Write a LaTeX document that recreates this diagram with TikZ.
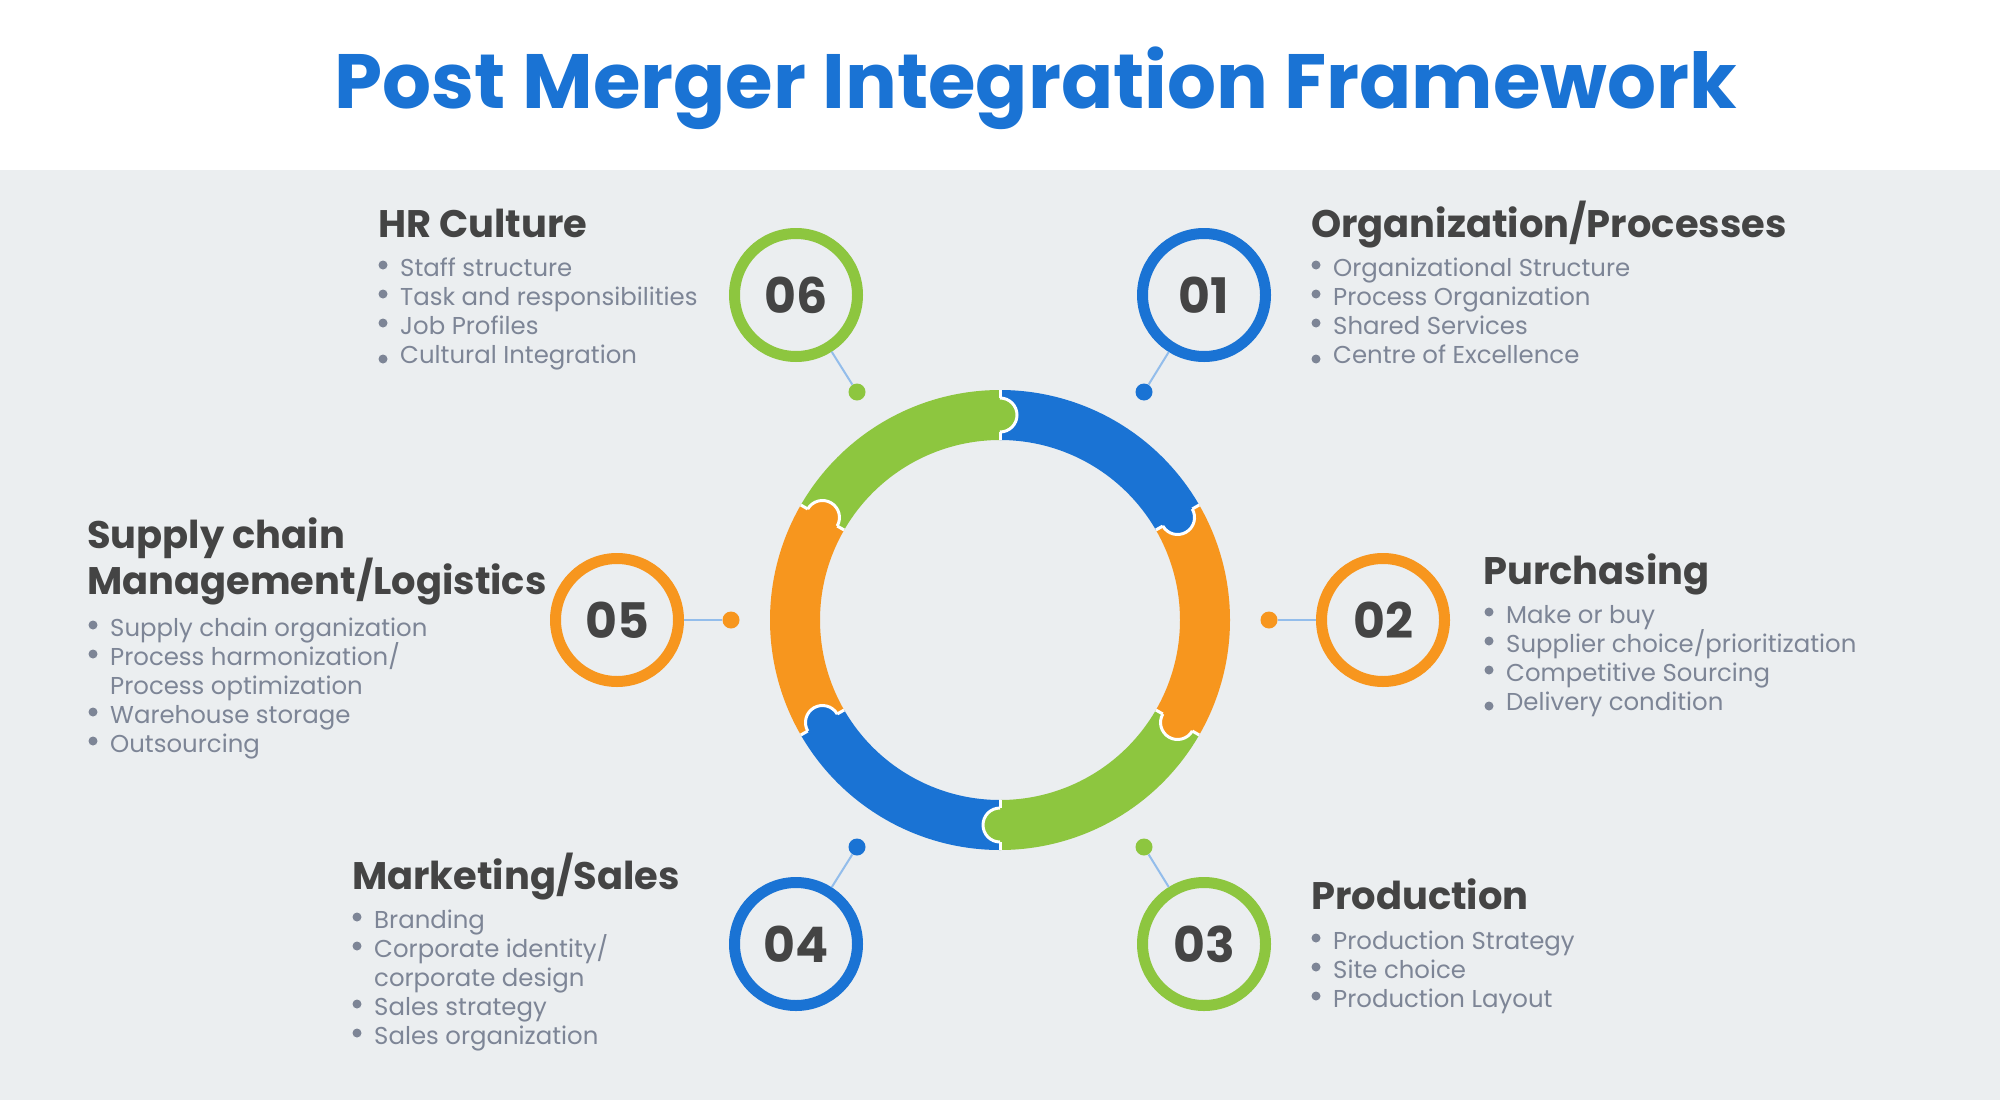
\documentclass[tikz,border=0pt]{standalone}
\usepackage{fontspec}
\setmainfont{Poppins}
\usetikzlibrary{calc}
\definecolor{bgc}{HTML}{EBEEF0}
\definecolor{myblue}{HTML}{1A73D4}
\definecolor{mygreen}{HTML}{8DC63F}
\definecolor{myorange}{HTML}{F7961E}
\definecolor{darktxt}{HTML}{444444}
\definecolor{bultxt}{HTML}{7D8596}
\definecolor{connc}{HTML}{93BDEB}
\newcommand\fs[1]{\fontsize{#1}{#1}\selectfont}
% bullet line: name, x, baseline y, text, dot dy
\newcommand\bl[5]{%
  \node[btext] (#1) at (#2,#3) {#4};
  \fill[bultxt] ($(#1.base west)+(-17,#5)$) circle[radius=4.5];}
\newcommand\wl[4]{\node[btext] (#1) at (#2,#3) {#4};}
\begin{document}
\begin{tikzpicture}[x=1pt,y=-1pt,
  numc/.style={circle, line width=11pt, minimum size=123pt, inner sep=0pt, font=\bfseries\fs{49}, text=darktxt},
  dotn/.style={circle, minimum size=17pt, inner sep=0pt},
  conn/.style={connc, line width=2pt},
  head/.style={font=\bfseries\fs{38.4}, text=darktxt, anchor=base west, inner sep=0pt},
  btext/.style={font=\fs{24.4}, text=bultxt, anchor=base west, inner sep=0pt}]
\useasboundingbox (0,0) rectangle (2000,1100);
\fill[white] (0,0) rectangle (2000,170);
\fill[bgc] (0,170) rectangle (2000,1100);

\node[font=\bfseries\fs{77}, text=myblue, anchor=base, inner sep=0pt] (title) at (1036,108) {Post Merger Integration Framework};

% ring
\begin{scope}[shift={(1000,620)}]
  \foreach \a/\c in {-90/myblue, -30/myorange, 30/mygreen, 90/myblue, 150/myorange, 210/mygreen} {
    \fill[\c] (\a:230) arc[start angle=\a, end angle=\a+60, radius=230]
      -- (\a+60:180) arc[start angle=\a+60, end angle=\a, radius=180] -- cycle;
  }
  \foreach \a/\c in {-90/mygreen, -30/myblue, 30/myorange, 90/mygreen, 150/myblue, 210/myorange} {
    \draw[white, line width=3pt] (\a:180) -- (\a:230);
    \fill[\c] (\a:205) circle[radius=17];
    \draw[white, line width=3pt] ($(\a:205)+(\a:17)$) arc[start angle=\a, end angle=\a+180, radius=17];
  }
\end{scope}

% numbered circles
\node[numc, draw=myblue] (c1) at (1204,295) {01};
\node[numc, draw=myorange] (c2) at (1383,620) {02};
\node[numc, draw=mygreen] (c3) at (1204,944) {03};
\node[numc, draw=myblue] (c4) at (796,944) {04};
\node[numc, draw=myorange] (c5) at (617,620) {05};
\node[numc, draw=mygreen] (c6) at (796,295) {06};

\node[dotn, fill=myblue] (d1) at (1144,392) {};
\node[dotn, fill=myorange] (d2) at (1269,620) {};
\node[dotn, fill=mygreen] (d3) at (1144,847) {};
\node[dotn, fill=myblue] (d4) at (857,847) {};
\node[dotn, fill=myorange] (d5) at (731,620) {};
\node[dotn, fill=mygreen] (d6) at (857,392) {};
\foreach \i in {1,...,6} {\draw[conn] (d\i) -- (c\i);}

% 06 HR Culture
\node[head] (h6) at (378,237) {HR Culture};
\bl{b61}{400}{276}{Staff structure}{-11}
\bl{b62}{400}{305}{Task and responsibilities}{-11}
\bl{b63}{400}{334}{Job Profiles}{-11}
\bl{b64}{400}{363}{Cultural Integration}{-4}

% 01 Organization/Processes
\node[head] (h1) at (1311,237) {Organization/Processes};
\bl{b11}{1333}{276}{Organizational Structure}{-11}
\bl{b12}{1333}{305}{Process Organization}{-11}
\bl{b13}{1333}{334}{Shared Services}{-11}
\bl{b14}{1333}{363}{Centre of Excellence}{-4}

% 02 Purchasing
\node[head] (h2) at (1483,584) {Purchasing};
\bl{b21}{1506}{623}{Make or buy}{-11}
\bl{b22}{1506}{652}{Supplier choice/prioritization}{-11}
\bl{b23}{1506}{681}{Competitive Sourcing}{-11}
\bl{b24}{1506}{710}{Delivery condition}{-4}

% 05 Supply chain
\node[head] (h5a) at (87,548) {Supply chain};
\node[head] (h5b) at (87,594) {Management/Logistics};
\bl{b51}{110}{636}{Supply chain organization}{-11}
\bl{b52}{110}{665}{Process harmonization/}{-11}
\wl{b53}{110}{694}{Process optimization}
\bl{b54}{110}{723}{Warehouse storage}{-11}
\bl{b55}{110}{752}{Outsourcing}{-11}

% 04 Marketing/Sales
\node[head] (h4) at (352,889) {Marketing/Sales};
\bl{b41}{374}{928}{Branding}{-11}
\bl{b42}{374}{957}{Corporate identity/}{-11}
\wl{b43}{374}{986}{corporate design}
\bl{b44}{374}{1015}{Sales strategy}{-11}
\bl{b45}{374}{1044}{Sales organization}{-11}

% 03 Production
\node[head] (h3) at (1311,909) {Production};
\bl{b31}{1333}{949}{Production Strategy}{-11}
\bl{b32}{1333}{978}{Site choice}{-11}
\bl{b33}{1333}{1007}{Production Layout}{-11}
\end{tikzpicture}
\end{document}
